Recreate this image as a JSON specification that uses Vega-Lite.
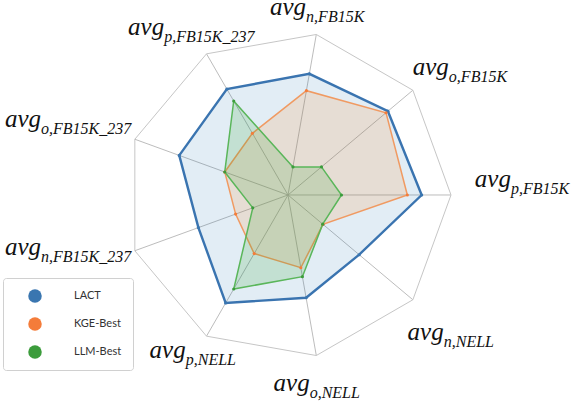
{
  "$schema": "https://vega.github.io/schema/vega-lite/v6.json",
  "width": 572,
  "height": 401,
  "autosize": "none",
  "padding": 0,
  "background": "white",
  "datasets": {
    "axes": [
      {"axis": "p,FB15K", "k": 0},
      {"axis": "o,FB15K", "k": 1},
      {"axis": "n,FB15K", "k": 2},
      {"axis": "p,FB15K_237", "k": 3},
      {"axis": "o,FB15K_237", "k": 4},
      {"axis": "n,FB15K_237", "k": 5},
      {"axis": "p,NELL", "k": 6},
      {"axis": "o,NELL", "k": 7},
      {"axis": "n,NELL", "k": 8}
    ],
    "scores": [
      {"series": "LACT", "axis": "p,FB15K", "value": 0.82},
      {"series": "LACT", "axis": "o,FB15K", "value": 0.8},
      {"series": "LACT", "axis": "n,FB15K", "value": 0.755},
      {"series": "LACT", "axis": "p,FB15K_237", "value": 0.75},
      {"series": "LACT", "axis": "o,FB15K_237", "value": 0.71},
      {"series": "LACT", "axis": "n,FB15K_237", "value": 0.585},
      {"series": "LACT", "axis": "p,NELL", "value": 0.765},
      {"series": "LACT", "axis": "o,NELL", "value": 0.64},
      {"series": "LACT", "axis": "n,NELL", "value": 0.57},
      {"series": "KGE-Best", "axis": "p,FB15K", "value": 0.732},
      {"series": "KGE-Best", "axis": "o,FB15K", "value": 0.785},
      {"series": "KGE-Best", "axis": "n,FB15K", "value": 0.65},
      {"series": "KGE-Best", "axis": "p,FB15K_237", "value": 0.437},
      {"series": "KGE-Best", "axis": "o,FB15K_237", "value": 0.413},
      {"series": "KGE-Best", "axis": "n,FB15K_237", "value": 0.342},
      {"series": "KGE-Best", "axis": "p,NELL", "value": 0.415},
      {"series": "KGE-Best", "axis": "o,NELL", "value": 0.453},
      {"series": "KGE-Best", "axis": "n,NELL", "value": 0.28},
      {"series": "LLM-Best", "axis": "p,FB15K", "value": 0.328},
      {"series": "LLM-Best", "axis": "o,FB15K", "value": 0.268},
      {"series": "LLM-Best", "axis": "n,FB15K", "value": 0.175},
      {"series": "LLM-Best", "axis": "p,FB15K_237", "value": 0.666},
      {"series": "LLM-Best", "axis": "o,FB15K_237", "value": 0.413},
      {"series": "LLM-Best", "axis": "n,FB15K_237", "value": 0.23},
      {"series": "LLM-Best", "axis": "p,NELL", "value": 0.666},
      {"series": "LLM-Best", "axis": "o,NELL", "value": 0.509},
      {"series": "LLM-Best", "axis": "n,NELL", "value": 0.278}
    ]
  },
  "layer": [
    {
      "data": {"name": "axes"},
      "transform": [
        {"calculate": "datum.k * 2 * PI / 9", "as": "ang"},
        {"calculate": "cos(datum.ang)", "as": "x"},
        {"calculate": "sin(datum.ang)", "as": "y"},
        {"calculate": "datum.x * (165 + 70 * datum.x * datum.x + 15 * abs(datum.y * datum.x) + 25 * max(datum.y, 0) * max(datum.x, 0))", "as": "cxpx"},
        {"calculate": "(datum.cxpx + (36 - length(datum.axis) * 8.6) / 2) / 163", "as": "jx"},
        {"calculate": "(8 + datum.y * (datum.y > 0 ? 175 : 198) + (datum.y < 0 ? 53 * max(datum.x, 0) * datum.y : 0)) / 163", "as": "cy"}
      ],
      "layer": [
        {
          "mark": {"type": "rule", "stroke": "#b4b4b4", "strokeWidth": 0.9},
          "encoding": {
            "x": {"field": "x", "type": "quantitative", "scale": {"domain": [-1.7669, 1.7423], "nice": false, "zero": false}, "axis": null},
            "y": {"field": "y", "type": "quantitative", "scale": {"domain": [-1.2638, 1.1963], "nice": false, "zero": false}, "axis": null},
            "x2": {"datum": 0},
            "y2": {"datum": 0}
          }
        },
        {
          "mark": {"type": "line", "interpolate": "linear-closed", "stroke": "#c6c6c6", "strokeWidth": 1},
          "encoding": {
            "x": {"field": "x", "type": "quantitative"},
            "y": {"field": "y", "type": "quantitative"},
            "order": {"field": "k", "type": "quantitative"}
          }
        },
        {
          "mark": {"type": "text", "align": "right", "baseline": "alphabetic", "font": "Liberation Serif", "fontStyle": "italic", "fontSize": 25, "color": "#111111"},
          "encoding": {
            "x": {"field": "jx", "type": "quantitative"},
            "y": {"field": "cy", "type": "quantitative"},
            "text": {"value": "avg"}
          }
        },
        {
          "mark": {"type": "text", "align": "left", "baseline": "alphabetic", "dy": 7, "font": "Liberation Serif", "fontStyle": "italic", "fontSize": 16, "color": "#111111"},
          "encoding": {
            "x": {"field": "jx", "type": "quantitative"},
            "y": {"field": "cy", "type": "quantitative"},
            "text": {"field": "axis", "type": "nominal"}
          }
        }
      ]
    },
    {
      "data": {"name": "scores"},
      "transform": [
        {"lookup": "axis", "from": {"data": {"name": "axes"}, "key": "axis", "fields": ["k"]}},
        {"calculate": "datum.k * 2 * PI / 9", "as": "ang"},
        {"calculate": "datum.value * cos(datum.ang)", "as": "x"},
        {"calculate": "datum.value * sin(datum.ang)", "as": "y"}
      ],
      "layer": [
        {
          "transform": [{"filter": "datum.series == 'LACT'"}],
          "mark": {"type": "line", "interpolate": "linear-closed", "fill": "#1f77b4", "fillOpacity": 0.13, "stroke": "#3a74b0", "strokeWidth": 2.4},
          "encoding": {
            "x": {"field": "x", "type": "quantitative"},
            "y": {"field": "y", "type": "quantitative"},
            "order": {"field": "k", "type": "quantitative"}
          }
        },
        {
          "transform": [{"filter": "datum.series == 'KGE-Best'"}],
          "mark": {"type": "line", "interpolate": "linear-closed", "fill": "#ff7f0e", "fillOpacity": 0.14, "stroke": "#f09a62", "strokeWidth": 1.5},
          "encoding": {
            "x": {"field": "x", "type": "quantitative"},
            "y": {"field": "y", "type": "quantitative"},
            "order": {"field": "k", "type": "quantitative"}
          }
        },
        {
          "transform": [{"filter": "datum.series == 'LLM-Best'"}],
          "mark": {"type": "line", "interpolate": "linear-closed", "fill": "#2ca02c", "fillOpacity": 0.17, "stroke": "#5ab65a", "strokeWidth": 1.5},
          "encoding": {
            "x": {"field": "x", "type": "quantitative"},
            "y": {"field": "y", "type": "quantitative"},
            "order": {"field": "k", "type": "quantitative"}
          }
        },
        {
          "mark": {"type": "point", "filled": true, "size": 10, "opacity": 1},
          "encoding": {
            "x": {"field": "x", "type": "quantitative"},
            "y": {"field": "y", "type": "quantitative"},
            "color": {
              "field": "series",
              "type": "nominal",
              "scale": {"domain": ["LACT", "KGE-Best", "LLM-Best"], "range": ["#3a76b0", "#f47c3a", "#3c9c3c"]},
              "legend": {"title": null}
            }
          }
        }
      ]
    }
  ],
  "config": {
    "view": {"stroke": null},
    "legend": {
      "orient": "none",
      "legendX": 3,
      "legendY": 278,
      "padding": 11,
      "symbolOffset": 14,
      "symbolSize": 182,
      "symbolType": "circle",
      "symbolStrokeWidth": 0,
      "symbolOpacity": 1,
      "labelOffset": 32,
      "rowPadding": 14,
      "labelFont": "Lato",
      "labelFontSize": 11,
      "labelColor": "#333333",
      "strokeColor": "#d0d0d0",
      "fillColor": "white",
      "cornerRadius": 3
    }
  }
}
